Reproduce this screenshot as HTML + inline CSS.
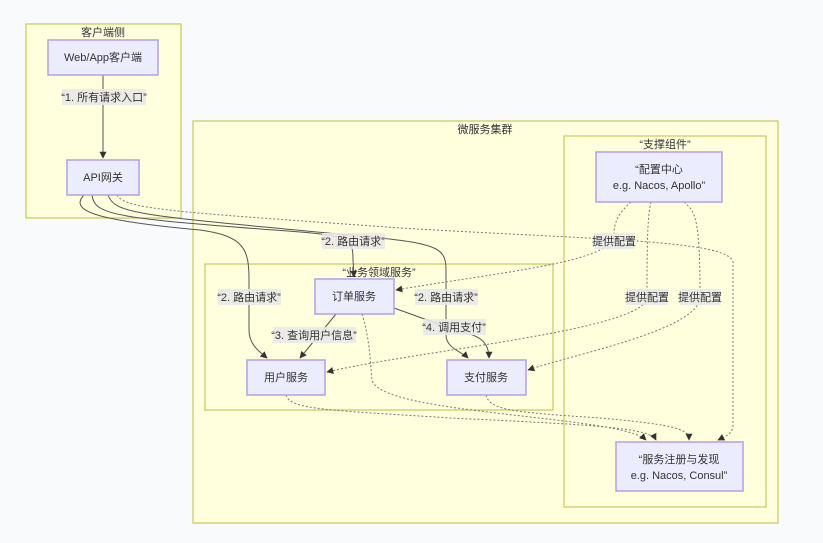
<!DOCTYPE html>
<html><head><meta charset="utf-8"><style>
html,body{margin:0;padding:0;background:#f9fafc;}
svg{display:block;}
text{font-family:"Liberation Sans","Noto Sans CJK SC",sans-serif;font-size:11px;fill:#333;}
.c{fill:#ffffde;stroke:#cccc66;stroke-width:1.3;}
.n{fill:#ececff;stroke:#b49ee8;stroke-width:1.5;}
.e{fill:none;stroke:#555;stroke-width:1;}
.d{fill:none;stroke:#777;stroke-width:1;stroke-dasharray:2,2;}
.lb{fill:#e8e8e8;opacity:0.9;}
</style></head><body>
<svg width="823" height="543" viewBox="0 0 823 543" xmlns="http://www.w3.org/2000/svg">
<defs><marker id="a" viewBox="0 0 10 10" refX="9" refY="5" markerWidth="7" markerHeight="7" orient="auto"><path d="M0,0L10,5L0,10z" fill="#333"/></marker></defs>
<rect class="c" x="26" y="24" width="155" height="194"/>
<text x="103" y="36" text-anchor="middle">客户端侧</text>
<rect class="c" x="193" y="121" width="585" height="402"/>
<text x="485" y="133" text-anchor="middle">微服务集群</text>
<rect class="c" x="564" y="136" width="202" height="371"/>
<text x="665" y="148" text-anchor="middle">“支撑组件”</text>
<rect class="c" x="205" y="264" width="348" height="146"/>
<text x="379" y="276" text-anchor="middle">“业务领域服务”</text>

<!-- edges -->
<path class="e" d="M103,75 L103,158" marker-end="url(#a)"/>
<path class="e" d="M84,195 C70,210 90,220 200,230 C245,236 249,250 249,280 L249,330 C249,345 260,352 267,358" marker-end="url(#a)"/>
<path class="e" d="M92,195 C95,215 110,218 300,232 C350,236 353,240 353,260 L354,277" marker-end="url(#a)"/>
<path class="e" d="M108,195 C115,215 140,215 380,238 C440,244 446,250 446,270 L446,335 C446,348 462,352 468,358" marker-end="url(#a)"/>
<path class="d" d="M117,195 C125,210 180,212 400,228 C600,240 728,240 733,262 L733,425 C733,435 722,438 718,440" marker-end="url(#a)"/>
<path class="d" d="M631,202 C620,212 614,220 614,235 C614,262 500,272 396,290" marker-end="url(#a)"/>
<path class="d" d="M651,202 C648,215 647,230 647,297 C647,330 420,350 327,372" marker-end="url(#a)"/>
<path class="d" d="M684,202 C696,212 700,220 700,297 C700,330 570,355 528,370" marker-end="url(#a)"/>
<path class="e" d="M336,314 L300,358" marker-end="url(#a)"/>
<path class="e" d="M394,308 L455,330 C480,335 489,342 489,358" marker-end="url(#a)"/>
<path class="d" d="M362,314 C370,340 370,360 372,380 C380,415 620,415 646,440" marker-end="url(#a)"/>
<path class="d" d="M286,395 C290,410 330,410 450,418 C600,425 650,428 656,440" marker-end="url(#a)"/>
<path class="d" d="M486,395 C490,410 510,412 600,418 C680,425 689,430 689,440" marker-end="url(#a)"/>

<!-- nodes -->
<rect class="n" x="48" y="40" width="110" height="35"/>
<text x="103" y="61" text-anchor="middle">Web/App客户端</text>
<rect class="n" x="67" y="160" width="72" height="35"/>
<text x="103" y="181" text-anchor="middle">API网关</text>
<rect class="n" x="596" y="152" width="126" height="50"/>
<text x="659" y="173" text-anchor="middle">“配置中心</text>
<text x="659" y="189" text-anchor="middle">e.g. Nacos, Apollo”</text>
<rect class="n" x="315" y="279" width="79" height="35"/>
<text x="354" y="300" text-anchor="middle">订单服务</text>
<rect class="n" x="247" y="360" width="78" height="35"/>
<text x="286" y="381" text-anchor="middle">用户服务</text>
<rect class="n" x="447" y="360" width="79" height="35"/>
<text x="486" y="381" text-anchor="middle">支付服务</text>
<rect class="n" x="616" y="442" width="127" height="49"/>
<text x="679" y="463" text-anchor="middle">“服务注册与发现</text>
<text x="679" y="479" text-anchor="middle">e.g. Nacos, Consul”</text>

<!-- labels -->
<rect class="lb" x="62" y="89" width="84" height="16"/><text x="104" y="101" text-anchor="middle">“1. 所有请求入口”</text>
<rect class="lb" x="322" y="233" width="63" height="16"/><text x="353" y="245" text-anchor="middle">“2. 路由请求”</text>
<rect class="lb" x="218" y="289" width="63" height="16"/><text x="249" y="301" text-anchor="middle">“2. 路由请求”</text>
<rect class="lb" x="415" y="289" width="63" height="16"/><text x="446" y="301" text-anchor="middle">“2. 路由请求”</text>
<rect class="lb" x="273" y="327" width="83" height="16"/><text x="314" y="339" text-anchor="middle">“3. 查询用户信息”</text>
<rect class="lb" x="423" y="319" width="63" height="16"/><text x="454" y="331" text-anchor="middle">“4. 调用支付”</text>
<rect class="lb" x="594" y="233" width="41" height="16"/><text x="614" y="245" text-anchor="middle">提供配置</text>
<rect class="lb" x="627" y="289" width="41" height="16"/><text x="647" y="301" text-anchor="middle">提供配置</text>
<rect class="lb" x="680" y="289" width="41" height="16"/><text x="700" y="301" text-anchor="middle">提供配置</text>
</svg>
</body></html>
